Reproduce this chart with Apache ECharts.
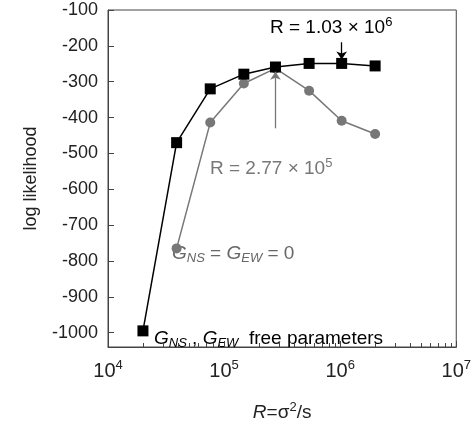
<!DOCTYPE html><html><head><meta charset="utf-8"><script src="https://cdn.jsdelivr.net/npm/echarts@6/dist/echarts.min.js"></script></head><body style="margin:0"><div id="c" style="width:474px;height:427px"></div><script>
const rValues=[2e4,3.9e4,7.6e4,1.48e5,2.77e5,5.4e5,1.03e6,2.0e6];
const freeLL=[-995,-470,-320,-279,-259,-249,-249,-256];
const zeroR=[3.9e4,7.6e4,1.48e5,2.77e5,5.4e5,1.03e6,2.0e6];
const zeroLL=[-765,-414,-305,-263,-325,-409,-446];
const yTicks=[-1000,-900,-800,-700,-600,-500,-400,-300,-200,-100];
const sup={1e4:'4',1e5:'5',1e6:'6',1e7:'7'};
const F='Liberation Sans, Arial, sans-serif';
const ch=echarts.init(document.getElementById('c'));
ch.setOption({
grid:{left:108,right:15,top:10,bottom:66,show:true,borderColor:'#444',borderWidth:1},
xAxis:{type:'log',min:1e4,max:1e7,logBase:10,
 axisLine:{lineStyle:{color:'#444'}},axisTick:{inside:true,length:6,lineStyle:{color:'#444'}},
 minorTick:{show:true,splitNumber:9,length:4,lineStyle:{color:'#444'}},splitLine:{show:false},
 axisLabel:{margin:12,formatter:v=>'{b|10}{s|'+(sup[v]||'')+'}',rich:{b:{fontSize:20,fontFamily:F,color:'#222'},s:{fontSize:13,fontFamily:F,color:'#222',padding:[0,0,12,0]}}},
 name:'{i|R}{n|=σ}{s|2}{n|/s}',nameLocation:'middle',nameGap:54,
 nameTextStyle:{rich:{i:{fontSize:19,fontStyle:'italic',fontFamily:F,color:'#222'},n:{fontSize:19,fontFamily:F,color:'#222'},s:{fontSize:13,fontFamily:F,color:'#222',padding:[0,0,10,0]}}}},
yAxis:{type:'value',min:-1040,max:-100,interval:100,
 axisLine:{lineStyle:{color:'#444'}},axisTick:{inside:true,length:6,lineStyle:{color:'#444'},customValues:yTicks},
 splitLine:{show:false},
 axisLabel:{customValues:yTicks,formatter:v=>String(v),fontSize:18,fontFamily:F,color:'#222',margin:10},
 name:'log likelihood',nameLocation:'middle',nameGap:68,nameTextStyle:{fontSize:18,fontFamily:F,color:'#222'}},
series:[
{type:'line',data:rValues.map((r,i)=>[r,freeLL[i]]),symbol:'rect',symbolSize:11,
 lineStyle:{color:'#000',width:1.5},itemStyle:{color:'#000'},z:3,
 markLine:{silent:true,symbol:['none','arrow'],symbolSize:8,label:{show:false},lineStyle:{color:'#000',width:1.3,type:'solid'},
  data:[[{coord:[1.03e6,-190]},{coord:[1.03e6,-238]}]]}},
{type:'line',data:zeroR.map((r,i)=>[r,zeroLL[i]]),symbol:'circle',symbolSize:10,
 lineStyle:{color:'#777',width:1.5},itemStyle:{color:'#777'},z:2,
 markLine:{silent:true,symbol:['none','arrow'],symbolSize:8,label:{show:false},lineStyle:{color:'#777',width:1.3,type:'solid'},
  data:[[{coord:[2.77e5,-430]},{coord:[2.77e5,-272]}]]}}
],
graphic:[
{type:'text',left:270,top:16,style:{text:'{n|R = 1.03 × 10}{s|6}',rich:{n:{fontSize:19,fontFamily:F,fill:'#000'},s:{fontSize:13,fontFamily:F,fill:'#000',padding:[0,0,10,0]}}}},
{type:'text',left:210,top:157,style:{text:'{n|R = 2.77 × 10}{s|5}',rich:{n:{fontSize:19,fontFamily:F,fill:'#777'},s:{fontSize:13,fontFamily:F,fill:'#777',padding:[0,0,10,0]}}}},
{type:'text',left:172,top:244,style:{text:'{i|G}{b|NS}{n| = }{i|G}{b|EW}{n| = 0}',rich:{i:{fontSize:19,fontStyle:'italic',fontFamily:F,fill:'#666'},b:{fontSize:13,fontStyle:'italic',fontFamily:F,fill:'#666',padding:[10,0,0,0]},n:{fontSize:19,fontFamily:F,fill:'#666'}}}},
{type:'text',left:154,top:329,style:{text:'{i|G}{b|NS}{n| , }{i|G}{b|EW}{n|  free parameters}',rich:{i:{fontSize:19,fontStyle:'italic',fontFamily:F,fill:'#000'},b:{fontSize:13,fontStyle:'italic',fontFamily:F,fill:'#000',padding:[10,0,0,0]},n:{fontSize:19,fontFamily:F,fill:'#000'}}}}
]});
</script></body></html>
